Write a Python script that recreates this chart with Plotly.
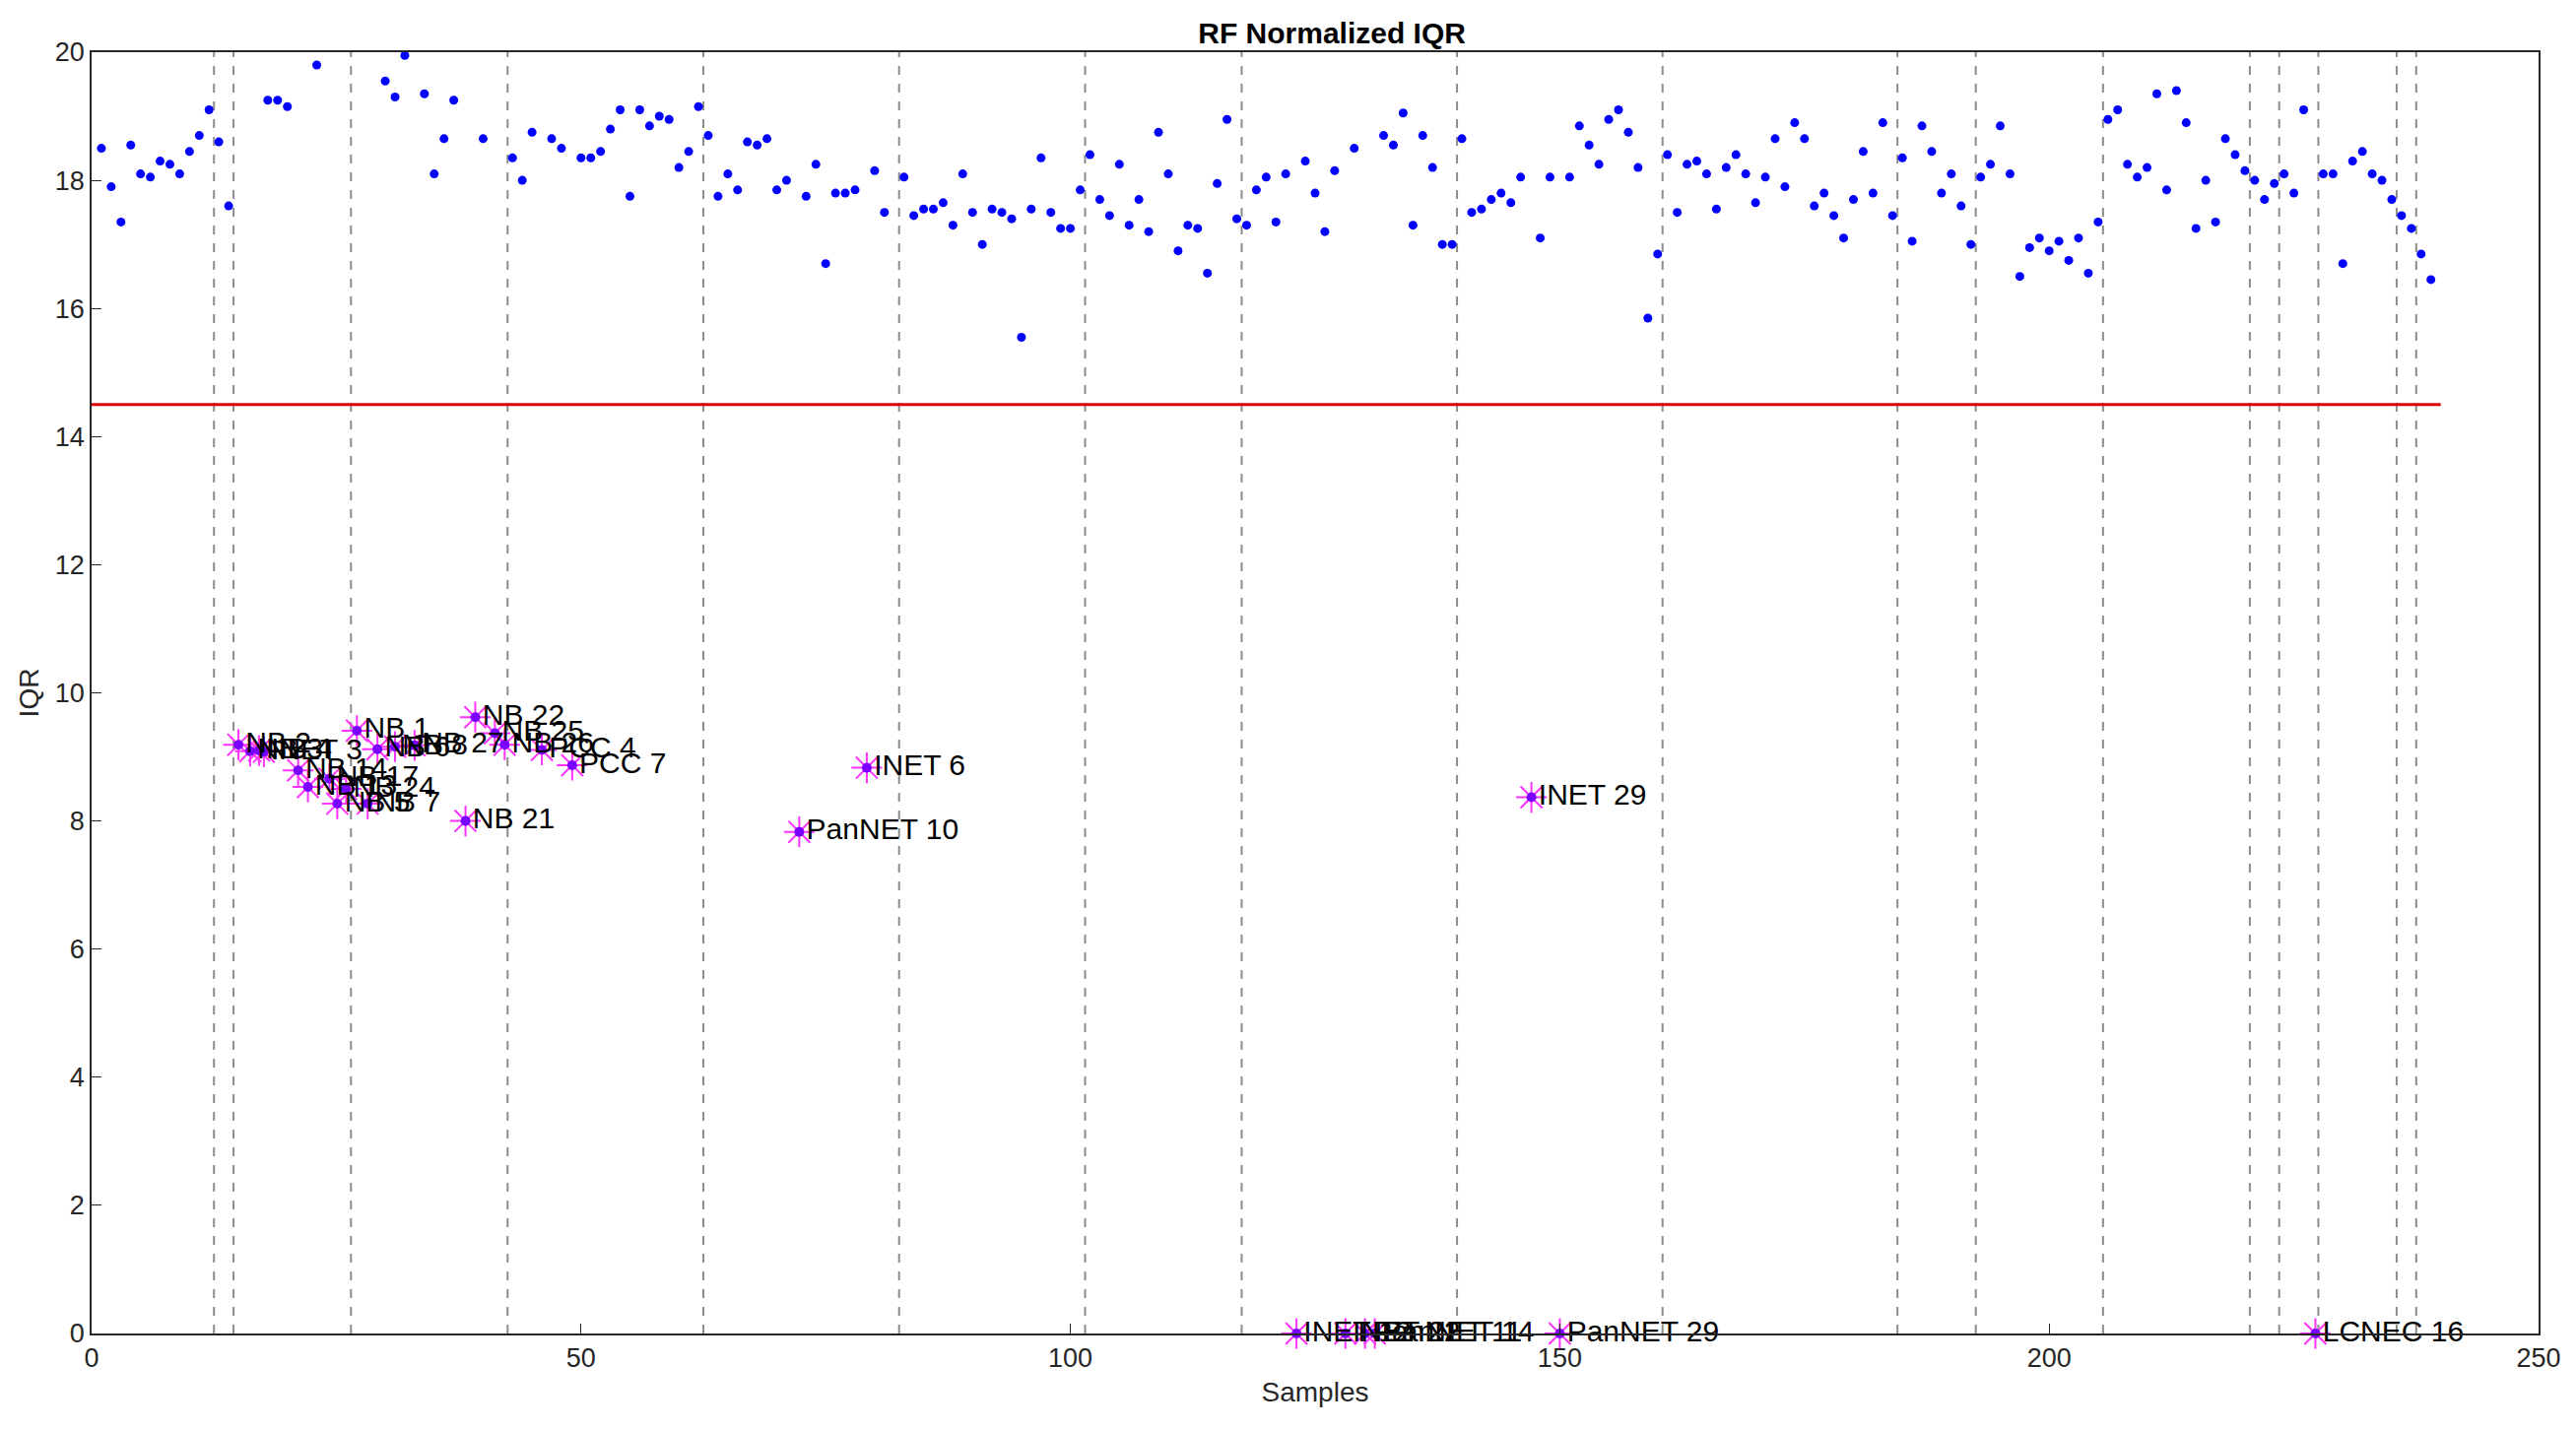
import plotly.graph_objects as go

# regular samples: (index, IQR)
sample_idx = [1, 2, 3, 4, 5, 6, 7, 8, 9, 10, 11, 12, 13, 14, 18, 19, 20, 23,
              30, 31, 32, 34, 35, 36, 37, 40, 43, 44, 45, 47, 48, 50, 51, 52, 53, 54, 55, 56, 57, 58, 59,
              60, 61, 62, 63, 64, 65, 66, 67, 68, 69, 70, 71, 73, 74, 75, 76, 77, 78, 80, 81, 83, 84, 85,
              86, 87, 88, 89, 90, 91, 92, 93, 94, 95, 96, 97, 98, 99, 100, 101, 102, 103, 104, 105, 106,
              107, 108, 109, 110, 111, 112, 113, 114, 115, 116, 117, 118, 119, 120, 121, 122, 124, 125,
              126, 127, 129, 132, 133, 134, 135, 136, 137, 138, 139, 140, 141, 142, 143, 144, 145, 146,
              148, 149, 151, 152, 153, 154, 155, 156, 157, 158, 159, 160, 161, 162, 163, 164, 165, 166,
              167, 168, 169, 170, 171, 172, 173, 174, 175, 176, 177, 178, 179, 180, 181, 182, 183, 184,
              185, 186, 187, 188, 189, 190, 191, 192, 193, 194, 195, 196, 197, 198, 199, 200, 201, 202,
              203, 204, 205, 206, 207, 208, 209, 210, 211, 212, 213, 214, 215, 216, 217, 218, 219, 220,
              221, 222, 223, 224, 225, 226, 228, 229, 230, 231, 232, 233, 234, 235, 236, 237, 238, 239]
sample_iqr = [18.5, 17.9, 17.35, 18.55, 18.1, 18.05, 18.3, 18.25, 18.1, 18.45, 18.7, 19.1, 18.6, 17.6,
              19.25, 19.25, 19.15, 19.8,
              19.55, 19.3, 19.95, 19.35, 18.1, 18.65, 19.25, 18.65, 18.35, 18.0, 18.75, 18.65, 18.5,
              18.35, 18.35, 18.45, 18.8, 19.1, 17.75, 19.1, 18.85, 19.0, 18.95,
              18.2, 18.45, 19.15, 18.7, 17.75, 18.1, 17.85, 18.6, 18.55, 18.65, 17.85, 18.0, 17.75,
              18.25, 16.7, 17.8, 17.8, 17.85, 18.15, 17.5, 18.05, 17.45, 17.55,
              17.55, 17.65, 17.3, 18.1, 17.5, 17.0, 17.55, 17.5, 17.4, 15.55, 17.55, 18.35, 17.5, 17.25,
              17.25, 17.85, 18.4, 17.7, 17.45, 18.25, 17.3,
              17.7, 17.2, 18.75, 18.1, 16.9, 17.3, 17.25, 16.55, 17.95, 18.95, 17.4, 17.3, 17.85, 18.05,
              17.35, 18.1, 18.3, 17.8,
              17.2, 18.15, 18.5, 18.7, 18.55, 19.05, 17.3, 18.7, 18.2, 17.0, 17.0, 18.65, 17.5, 17.55,
              17.7, 17.8, 17.65, 18.05,
              17.1, 18.05, 18.05, 18.85, 18.55, 18.25, 18.95, 19.1, 18.75, 18.2, 15.85, 16.85, 18.4,
              17.5, 18.25, 18.3, 18.1, 17.55,
              18.2, 18.4, 18.1, 17.65, 18.05, 18.65, 17.9, 18.9, 18.65, 17.6, 17.8, 17.45, 17.1, 17.7,
              18.45, 17.8, 18.9, 17.45,
              18.35, 17.05, 18.85, 18.45, 17.8, 18.1, 17.6, 17.0, 18.05, 18.25, 18.85, 18.1, 16.5, 16.95,
              17.1, 16.9, 17.05, 16.75,
              17.1, 16.55, 17.35, 18.95, 19.1, 18.25, 18.05, 18.2, 19.35, 17.85, 19.4, 18.9, 17.25, 18.0,
              17.35, 18.65, 18.4, 18.15,
              18.0, 17.7, 17.95, 18.1, 17.8, 19.1, 18.1, 18.1, 16.7, 18.3, 18.45, 18.1, 18.0, 17.7, 17.45,
              17.25, 16.85, 16.45]

# flagged outliers
out_x = [15.0, 16.2, 17.1, 17.6, 21.1, 22.1, 24.3, 26.0, 25.1, 28.2, 27.1, 29.2, 31.0, 33.0,
         39.2, 41.2, 42.2, 46.0, 49.1, 38.2, 72.3, 79.2, 147.1,
         123.1, 128.1, 130.1, 131.1, 150.0, 227.2]
out_y = [9.19, 9.09, 9.1, 9.08, 8.79, 8.53, 8.66, 8.5, 8.27, 8.27, 9.41, 9.12, 9.16, 9.18,
         9.62, 9.37, 9.19, 9.11, 8.87, 8.0, 7.83, 8.83, 8.37,
         0, 0, 0, 0, 0, 0]
out_lbl = ["NB 2", "NB 3", "NB 4", "INET 3", "NB 14", "NB 13", "NB 17", "NB 24", "NB 5", "NB 7",
           "NB 1", "NB 6", "NB 8", "NB 27", "NB 22", "NB 25", "NB 26", "PCC 4", "PCC 7", "NB 21",
           "PanNET 10", "INET 6", "INET 29",
           "INET 12", "INET 22", "PanNET 11", "PanNET 14", "PanNET 29", "LCNEC 16"]

group_bounds = [12.5, 14.5, 26.5, 42.5, 62.5, 82.5, 101.5, 117.5, 139.5, 160.5, 184.5, 192.5,
                205.5, 220.5, 223.5, 227.5, 235.5, 237.5]
threshold = 14.5

fig = go.Figure()
for b in group_bounds:
    fig.add_shape(type="line", x0=b, x1=b, y0=0, y1=20, xref="x", yref="y",
                  line=dict(color="#8c8c8c", width=2, dash="dash"), layer="below")
fig.add_shape(type="line", x0=0, x1=240, y0=threshold, y1=threshold,
              line=dict(color="#e00000", width=3))

fig.add_trace(go.Scatter(x=sample_idx, y=sample_iqr, mode="markers",
                         marker=dict(color="#0000ff", size=9), showlegend=False))
fig.add_trace(go.Scatter(x=out_x, y=out_y, mode="markers",
                         marker=dict(symbol="asterisk-open", size=26, color="#ff33ff",
                                     line=dict(color="#ff33ff", width=2)),
                         showlegend=False, cliponaxis=False))
fig.add_trace(go.Scatter(x=out_x, y=out_y, mode="markers+text", text=out_lbl,
                         textposition="middle right",
                         textfont=dict(size=30, color="black", family="Liberation Sans, Arial"),
                         marker=dict(color="#7a00ff", size=10), showlegend=False, cliponaxis=False))

axis_common = dict(showgrid=False, zeroline=False, showline=True, mirror=True, automargin=False,
                   linecolor="#262626", linewidth=1.5, ticks="inside", ticklen=10,
                   tickcolor="#262626", tickfont=dict(size=27, color="#262626"))
fig.update_xaxes(range=[0, 250], dtick=50,
                 title=dict(text="Samples", font=dict(size=28, color="#262626"), standoff=10),
                 **axis_common)
fig.update_yaxes(range=[0, 20], dtick=2,
                 title=dict(text="IQR", font=dict(size=28, color="#262626"), standoff=8),
                 **axis_common)
fig.update_layout(
    width=2615, height=1452,
    title=dict(text="<b>RF Normalized IQR</b>", x=0.514, xanchor="center", y=0.99,
               font=dict(size=30, color="black")),
    font=dict(family="Liberation Sans, Arial", color="#262626"),
    plot_bgcolor="white", paper_bgcolor="white",
    margin=dict(l=85, r=46, t=45, b=106),
)
fig.write_html("out.html")
